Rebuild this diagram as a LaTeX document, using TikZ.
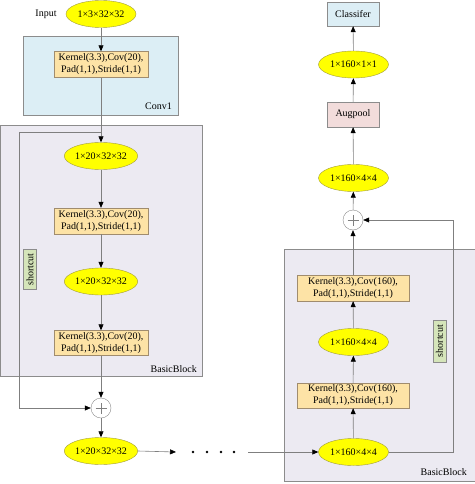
\documentclass[tikz,border=0pt]{standalone}
\usepackage{fontspec}
\setmainfont{Liberation Serif}
\usetikzlibrary{arrows.meta,shapes.geometric}
\definecolor{ellfill}{HTML}{FFFF00}
\definecolor{ellline}{HTML}{A09A3C}
\definecolor{kfill}{HTML}{FDE3A6}
\definecolor{kline}{HTML}{A08C6E}
\definecolor{convfill}{HTML}{DCEEF5}
\definecolor{bbfill}{HTML}{ECEAF2}
\definecolor{boxline}{HTML}{8C8C8C}
\definecolor{augfill}{HTML}{F2DCDB}
\definecolor{scfill}{HTML}{D5E5BA}
\definecolor{conn}{HTML}{7F7F7F}
\tikzset{
  ell/.style={ellipse,draw=ellline,fill=ellfill,minimum width=70pt,minimum height=27pt,inner sep=0pt,font=\fontsize{10}{12}\selectfont},
  kbox/.style={rectangle,draw=kline,fill=kfill,minimum height=26pt,inner sep=1pt,align=center,font=\fontsize{10}{12}\selectfont},
  smallbox/.style={rectangle,draw=boxline,minimum width=52pt,minimum height=24pt,inner sep=0pt,font=\fontsize{10}{12}\selectfont},
  container/.style={rectangle,draw=boxline,inner sep=0pt},
  sclabel/.style={rectangle,draw=boxline,fill=scfill,rotate=90,minimum width=40pt,minimum height=13pt,inner sep=0pt,font=\fontsize{10}{12}\selectfont},
  lbl/.style={font=\fontsize{10}{12}\selectfont,inner sep=0pt},
  plus/.style={circle,draw=boxline,fill=white,minimum size=20pt,inner sep=0pt},
  arr/.style={draw=conn,line width=0.6pt,-{Triangle[length=6pt,width=5pt,color=black]}},
  ln/.style={draw=conn,line width=0.6pt},
}
\begin{document}
\begin{tikzpicture}[x=1pt,y=-1pt]
\useasboundingbox (0,0) rectangle (474,484);
% containers
\node[container,fill=convfill,minimum width=155pt,minimum height=79pt] (conv1) at (100.5,75.5) {};
\node[lbl,anchor=east] (conv1lbl) at (172,106) {Conv1};
\node[container,fill=bbfill,minimum width=202pt,minimum height=251pt] (bb1) at (101,250.5) {};
\node[lbl,anchor=east] (bb1lbl) at (197,369) {BasicBlock};
\node[container,fill=bbfill,minimum width=192pt,minimum height=232pt] (bb2) at (380,365) {};
\node[lbl,anchor=east] (bb2lbl) at (467,472) {BasicBlock};
% left column
\node[lbl] (inlbl) at (46,14) {Input};
\node[ell] (in) at (101,14) {1×3×32×32};
\node[kbox,minimum width=94pt] (k1) at (101,64.5) {Kernel(3.3),Cov(20),\\Pad(1,1),Stride(1,1)};
\node[ell] (e1) at (101,156) {1×20×32×32};
\node[kbox,minimum width=94pt] (k2) at (101,221) {Kernel(3.3),Cov(20),\\Pad(1,1),Stride(1,1)};
\node[ell] (e2) at (101,281.5) {1×20×32×32};
\node[kbox,minimum width=94pt,minimum height=25pt] (k3) at (101,343) {Kernel(3.3),Cov(20),\\Pad(1,1),Stride(1,1)};
\node[sclabel] (sc1) at (30,269.5) {shortcut};
\node[plus] (p1) at (101,408) {};
\draw[conn,line width=0.6pt] ([xshift=-5.5pt]p1.center) -- ([xshift=5.5pt]p1.center) ([yshift=-5.5pt]p1.center) -- ([yshift=5.5pt]p1.center);
\node[ell] (e3) at (101,451) {1×20×32×32};
% right column
\node[smallbox,fill=convfill] (cls) at (353,14) {Classifer};
\node[ell] (e5) at (353.5,64.5) {1×160×1×1};
\node[smallbox,fill=augfill,minimum height=25pt] (aug) at (353,114.5) {Augpool};
\node[ell] (e4) at (353.5,178) {1×160×4×4};
\node[plus] (p2) at (353,220) {};
\draw[conn,line width=0.6pt] ([xshift=-5.5pt]p2.center) -- ([xshift=5.5pt]p2.center) ([yshift=-5.5pt]p2.center) -- ([yshift=5.5pt]p2.center);
\node[kbox,minimum width=112pt] (k5) at (353,288) {Kernel(3.3),Cov(160),\\Pad(1,1),Stride(1,1)};
\node[ell] (e6) at (353.5,342) {1×160×4×4};
\node[kbox,minimum width=112pt,minimum height=25pt] (k4) at (353,395.5) {Kernel(3.3),Cov(160),\\Pad(1,1),Stride(1,1)};
\node[ell] (e7) at (353.5,452) {1×160×4×4};
\node[sclabel,minimum width=42pt] (sc2) at (439.5,341) {shortcut};
% dots
\foreach \i/\x in {1/193,2/207,3/221,4/234} \fill (\x,452) circle (1.3pt) coordinate (d\i);
\coordinate (dend) at (176,452);
\coordinate (dstart) at (248,452);
% connectors
\draw[arr] (in) -- (k1);
\draw[arr] (k1) -- (e1);
\draw[arr] (e1) -- (k2);
\draw[arr] (k2) -- (e2);
\draw[arr] (e2) -- (k3);
\draw[arr] (k3) -- (p1);
\draw[arr] (p1) -- (e3);
\coordinate (br1) at (101,132);
\coordinate (c1a) at (19,132);
\coordinate (c1b) at (19,408);
\draw[arr] (br1) -- (c1a) -- (c1b) -- (p1.west);
\draw[arr] (e3.east) -- (dend);
\draw[arr] (dstart) -- (e7.west);
\draw[arr] (e7) -- (k4);
\draw[arr] (k4) -- (e6);
\draw[arr] (e6) -- (k5);
\draw[arr] (k5) -- (p2);
\draw[arr] (p2) -- (e4);
\draw[arr] (e4) -- (aug);
\draw[arr] (aug) -- (e5);
\draw[arr] (e5) -- (cls);
\coordinate (c2a) at (453,452);
\coordinate (c2b) at (453,220);
\draw[arr] (e7.east) -- (c2a) -- (c2b) -- (p2.east);
\end{tikzpicture}
\end{document}
